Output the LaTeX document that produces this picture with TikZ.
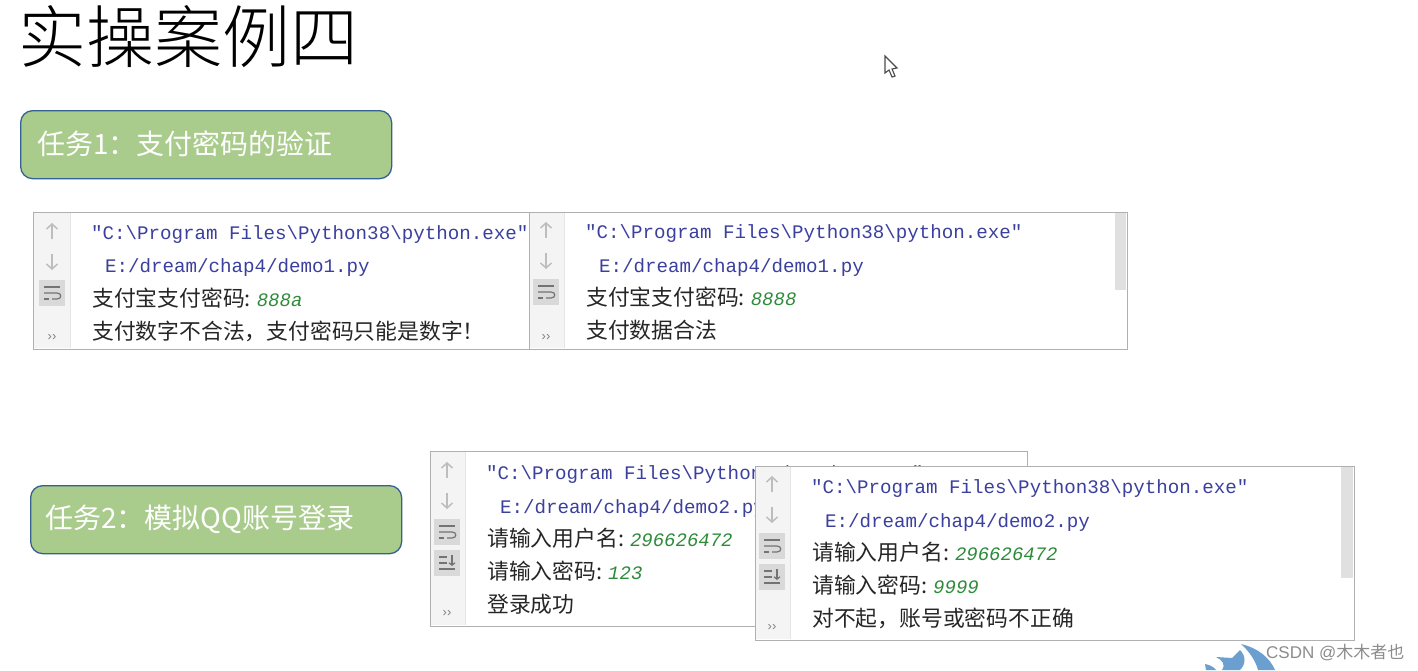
\documentclass[tikz,border=0pt]{standalone}
\usetikzlibrary{arrows.meta}
\usepackage{fontspec}
\setmainfont{Noto Sans CJK SC}
\newfontfamily\titlefont{Noto Sans CJK SC Light}
\newfontfamily\monolat{Liberation Mono}
\newfontfamily\sanslat{Liberation Sans}
\definecolor{pathblue}{HTML}{3B3F9E}
\definecolor{inputgreen}{HTML}{2E8B3A}
\definecolor{taskgreen}{HTML}{A9CB8C}
\definecolor{taskborder}{HTML}{34618F}
\definecolor{barbg}{HTML}{F4F4F4}
\definecolor{btnbg}{HTML}{D9D9D9}
\definecolor{iconfg}{HTML}{BDBDBD}
\definecolor{frameline}{HTML}{B0B0B0}
\definecolor{logoblue}{HTML}{6A9FD0}
\tikzset{
  x=1pt,y=-1pt,
  taskbox/.style={draw=taskborder,line width=1.3pt,fill=taskgreen,rounded corners=12pt,minimum width=371pt,minimum height=68pt,anchor=north west,inner sep=0pt},
  tasktext/.style={anchor=west,inner sep=0pt,text=white,font=\fontsize{28}{30}\selectfont},
  console/.style={anchor=base west,inner sep=0pt,text=black!85,font=\fontsize{21.8}{23}\selectfont},
  pathtext/.style={anchor=base west,inner sep=0pt,text=pathblue,font=\monolat\fontsize{19.17}{22}\selectfont},
  panelframe/.style={draw=frameline,line width=1pt,fill=white},
  sidebar/.style={fill=barbg,draw=none},
  btn/.style={fill=btnbg,draw=none},
  ico/.style={draw=iconfg,line width=1.5pt},
  icodark/.style={draw=black!55,line width=1.2pt},
}
\newcommand{\inp}[1]{\textcolor{inputgreen}{\monolat\itshape\fontsize{19}{20}\selectfont #1}}
\newcommand{\cln}{\makebox[12pt][l]{:}}
% #1 x, #2 y of first arrow, #3 y of wrap button centre, #4 y of the dots
\newcommand{\sideicons}[4]{%
  \draw[ico,-{Straight Barb[length=5pt,width=11pt]}] (#1,#2+8) -- (#1,#2-8);
  \draw[ico,-{Straight Barb[length=5pt,width=11pt]}] (#1,#2+23) -- (#1,#2+39);
  \fill[btn] (#1-13,#3-13) rectangle (#1+13,#3+13);
  \draw[icodark] (#1-8,#3-6) -- (#1+8,#3-6);
  \draw[icodark] (#1-8,#3) -- (#1+5,#3) .. controls (#1+10,#3) and (#1+10,#3+6) .. (#1+5,#3+6) -- (#1,#3+6);
  \draw[icodark] (#1-8,#3+6) -- (#1-3,#3+6);
  \node[inner sep=0pt,text=black!50,font=\sanslat\fontsize{13}{14}\selectfont] (dots#1) at (#1,#4) {››};
}
\begin{document}
\begin{tikzpicture}
\useasboundingbox (0,0) rectangle (1418,670);
\fill[white] (0,0) rectangle (1418,670);
\clip (0,0) rectangle (1418,670);

\node[anchor=west,inner sep=0pt,text=black,font=\titlefont\fontsize{68}{70}\selectfont] (title) at (18,37) {实操案例四};

% cursor
\draw[black!70,fill=white,line width=1.1pt] (885,56) -- (885,73) -- (889,70) -- (892,77) -- (895,76) -- (892,69) -- (897,68) -- cycle;

% task 1
\node[taskbox] (task1) at (20,110) {};
\node[tasktext] (task1t) at (37,144) {任务1：支付密码的验证};

% panel 1
\draw[panelframe] (33,212) rectangle (529,349);
\fill[sidebar] (34,213) rectangle (70,348);
\draw[black!10] (70,213) -- (70,348);
\sideicons{52}{231}{293}{338}
\node[pathtext] (p1a) at (91,239) {"C:\textbackslash Program Files\textbackslash Python38\textbackslash python.exe"};
\node[pathtext] (p1b) at (105,272) {E:/dream/chap4/demo1.py};
\node[console] (p1c) at (92,306) {支付宝支付密码\cln\inp{888a}};
\node[console] (p1d) at (92,339) {支付数字不合法，支付密码只能是数字！};

% panel 2
\draw[panelframe] (529,212) rectangle (1127,349);
\fill[sidebar] (530,213) rectangle (564,348);
\draw[black!10] (564,213) -- (564,348);
\fill[black!12] (1115,213) rectangle (1126,290);
\sideicons{546}{230}{292}{338}
\node[pathtext] (p2a) at (585,238) {"C:\textbackslash Program Files\textbackslash Python38\textbackslash python.exe"};
\node[pathtext] (p2b) at (599,272) {E:/dream/chap4/demo1.py};
\node[console] (p2c) at (586,305) {支付宝支付密码\cln\inp{8888}};
\node[console] (p2d) at (586,338) {支付数据合法};

% task 2
\node[taskbox] (task2) at (30,485) {};
\node[tasktext] (task2t) at (45,519) {任务2：模拟QQ账号登录};

% panel 3
\draw[panelframe] (430,451) rectangle (1027,626);
\fill[sidebar] (431,452) rectangle (465,625);
\draw[black!10] (465,452) -- (465,625);
\sideicons{447}{470}{532}{614}
\fill[btn] (434,550) rectangle (460,576);
\draw[icodark] (439,557) -- (447,557) (439,563) -- (447,563) (439,569) -- (455,569);
\draw[icodark,-{Straight Barb[length=2.5pt,width=6pt]}] (452,555) -- (452,566);
\node[pathtext] (p3a) at (486,479) {"C:\textbackslash Program Files\textbackslash Python38\textbackslash python.exe"};
\node[pathtext] (p3b) at (500,513) {E:/dream/chap4/demo2.py};
\node[console] (p3c) at (487,546) {请输入用户名\cln\inp{296626472}};
\node[console] (p3d) at (487,579) {请输入密码\cln\inp{123}};
\node[console] (p3e) at (487,612) {登录成功};

% panel 4
\draw[panelframe] (755,466) rectangle (1354,640);
\fill[sidebar] (756,467) rectangle (790,639);
\draw[black!10] (790,467) -- (790,639);
\fill[black!12] (1341,467) rectangle (1353,578);
\sideicons{772}{484}{546}{628}
\fill[btn] (759,564) rectangle (785,590);
\draw[icodark] (764,571) -- (772,571) (764,577) -- (772,577) (764,583) -- (780,583);
\draw[icodark,-{Straight Barb[length=2.5pt,width=6pt]}] (777,569) -- (777,580);
\node[pathtext] (p4a) at (811,493) {"C:\textbackslash Program Files\textbackslash Python38\textbackslash python.exe"};
\node[pathtext] (p4b) at (825,527) {E:/dream/chap4/demo2.py};
\node[console] (p4c) at (812,560) {请输入用户名\cln\inp{296626472}};
\node[console] (p4d) at (812,593) {请输入密码\cln\inp{9999}};
\node[console] (p4e) at (812,626) {对不起，账号或密码不正确};

% logo fragment
\fill[logoblue] (1241,644) .. controls (1258,648) and (1270,658) .. (1275,670) -- (1258,670) .. controls (1256,662) and (1250,652) .. cycle;
\fill[logoblue] (1216,657) -- (1232,658) -- (1240,650) .. controls (1246,656) and (1246,664) .. (1240,670) -- (1222,670) .. controls (1226,664) and (1222,660) .. cycle;
\fill[logoblue] (1205,664) .. controls (1210,665) and (1214,667) .. (1216,670) -- (1206,670) -- cycle;

% watermark
\node[anchor=base west,inner sep=0pt,text=black!45,font=\fontsize{17}{19}\selectfont] (mark) at (1266,658) {\sanslat CSDN @\rmfamily 木木者也};
\end{tikzpicture}
\end{document}
